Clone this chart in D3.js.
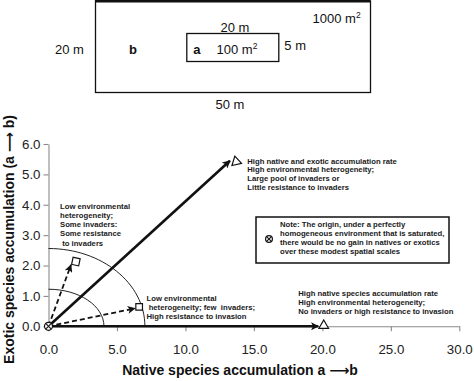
<!DOCTYPE html>
<html>
<head>
<meta charset="utf-8">
<script src="https://cdn.jsdelivr.net/npm/d3@7"></script>
<style>
  html, body { margin: 0; padding: 0; background: #fff; }
  svg { display: block; font-family: "Liberation Sans", Arial, Helvetica, sans-serif; }
</style>
</head>
<body>
<svg id="chart" width="474" height="381"></svg>
<script>
// ---------- data ----------
const xTickValues = [0, 5, 10, 15, 20, 25, 30];
const yTickValues = [0, 1, 2, 3, 4, 5, 6];
const xTickLabels = ["0.0", "5.0", "10.0", "15.0", "20.0", "25.0", "30.0"];
const yTickLabels = ["0.0", "1.0", "2.0", "3.0", "4.0", "5.0", "6.0"];

// vectors from the origin (native accumulation, exotic accumulation)
const vectorNames = ["highBoth", "highNative", "lowSome", "lowFew"];
const vectorNative = [13.25, 19.7, 1.64, 6.31];
const vectorExotic = [5.45, 0.0, 2.02, 0.59];
// end markers
const markerNative = [13.7, 20.1, 2.0, 6.62];
const markerExotic = [5.42, 0.0, 2.13, 0.64];
const markerShapes = ["triangle", "triangle", "square", "square"];
// reference arcs (radii in data units)
const arcNative = [4.05, 7.04];
const arcExotic = [1.22, 2.56];

const annotHighBoth = ["High native and exotic accumulation rate", "High environmental heterogeneity;", "Large pool of invaders or", "Little resistance to invaders"];
const annotHighNative = ["High native species accumulation rate", "High environmental heterogeneity;", "No invaders or high resistance to invasion"];
const annotLowSome = ["Low environmental", "heterogeneity;", "Some invaders:", "Some resistance", " to invaders"];
const annotLowFew = ["Low environmental", " heterogeneity; few  invaders;", "High resistance to invasion"];
const noteLines = ["Note: The origin, under a perfectly", "homogeneous environment that is saturated,", "there would be no gain in natives or exotics", "over these modest spatial scales"];

// ---------- styles ----------
const vectorStyle = {
  highBoth: { w: 2.6, dash: null },
  highNative: { w: 2.6, dash: null },
  lowSome: { w: 1.8, dash: "5,3" },
  lowFew: { w: 1.8, dash: "5,3" }
};
const markerRotate = [-13, 0, 12, 0];
const markerSize = [42, 40, 52, 44];

const svg = d3.select("#chart");

// ---------- top diagram ----------
const topG = svg.append("g");
topG.append("line").attr("x1", 95).attr("x2", 370.5).attr("y1", 1).attr("y2", 1)
  .attr("stroke", "#111").attr("stroke-width", 3);
topG.append("rect").attr("x", 95.5).attr("y", 1).attr("width", 275).attr("height", 91.5)
  .attr("fill", "none").attr("stroke", "#111").attr("stroke-width", 1.3);
topG.append("rect").attr("x", 186.8).attr("y", 33.5).attr("width", 92).attr("height", 28)
  .attr("fill", "none").attr("stroke", "#111").attr("stroke-width", 1.3);

function topText(x0, y0, str, opts = {}) {
  const t = topG.append("text").attr("x", x0).attr("y", y0).attr("font-size", 13).attr("fill", "#111")
    .attr("text-anchor", opts.anchor || "start").attr("font-weight", opts.bold ? "bold" : "normal");
  t.append("tspan").text(str);
  if (opts.sup) {
    t.append("tspan").attr("font-size", 8.5).attr("dy", -5).text(opts.sup);
  }
  return t;
}
topText(312.5, 22.7, "1000 m", { sup: "2" });
topText(235, 31.7, "20 m", { anchor: "middle" });
topText(55, 54.3, "20 m");
topText(129, 54.3, "b", { bold: true });
topText(193.3, 54.3, "a", { bold: true });
topText(216.5, 54.3, "100 m", { sup: "2" });
topText(284.3, 50, "5 m");
topText(230, 109.3, "50 m", { anchor: "middle" });

// ---------- scales ----------
const x = d3.scaleLinear().domain([0, 30]).range([48.5, 459.3]);
const y = d3.scaleLinear().domain([0, 6]).range([326.3, 144]);

const plot = svg.append("g");

// axes
const xAxis = d3.axisBottom(x).tickValues(xTickValues).tickSize(5).tickSizeOuter(0)
  .tickFormat((d, i) => xTickLabels[i]);
const yAxis = d3.axisLeft(y).tickValues(yTickValues).tickSize(5).tickSizeOuter(0)
  .tickFormat((d, i) => yTickLabels[i]);

const gx = plot.append("g").attr("transform", `translate(0,${y(0)})`).call(xAxis);
const gy = plot.append("g").attr("transform", `translate(${x(0)},0)`).call(yAxis);
[gx, gy].forEach(g => {
  g.select(".domain").attr("stroke", "#8a8a8a").attr("stroke-width", 1.1);
  g.selectAll(".tick line").attr("stroke", "#8a8a8a").attr("stroke-width", 1.1);
  g.selectAll(".tick text").attr("font-size", 13.3).attr("fill", "#222")
    .attr("font-family", '"Liberation Sans", Arial, sans-serif');
});
gx.selectAll(".tick text").attr("dy", "1.45em");
gy.selectAll(".tick text").attr("x", -8);

// axis titles
const xt = plot.append("text").attr("x", 240).attr("y", 375).attr("text-anchor", "middle")
  .attr("font-size", 14).attr("font-weight", "bold").attr("fill", "#111");
xt.append("tspan").text("Native species accumulation a ");
xt.append("tspan").attr("font-family", '"DejaVu Sans", sans-serif').text("\u27F6");
xt.append("tspan").text("b");

const yt = plot.append("text").attr("transform", "translate(13.5,239.5) rotate(-90)").attr("text-anchor", "middle")
  .attr("font-size", 14).attr("font-weight", "bold").attr("fill", "#111");
yt.append("tspan").text("Exotic species accumulation (a ");
yt.append("tspan").attr("font-family", '"DejaVu Sans", sans-serif').text("\u27F6");
yt.append("tspan").text(" b)");

// arcs (quarter ellipses in data space)
arcNative.forEach((rn, i) => {
  const re = arcExotic[i];
  const rx = x(rn) - x(0), ry = y(0) - y(re);
  const p = d3.path();
  p.moveTo(x(0), y(re));
  p.bezierCurveTo(x(0) + rx * 0.5523, y(re), x(rn), y(0) - ry * 0.5523, x(rn), y(0));
  plot.append("path").attr("d", p.toString()).attr("fill", "none")
    .attr("stroke", "#222").attr("stroke-width", 1);
});

// arrowhead marker
const defs = svg.append("defs");
defs.append("marker").attr("id", "head").attr("viewBox", "0 0 10 10")
  .attr("refX", 9).attr("refY", 5).attr("markerUnits", "userSpaceOnUse")
  .attr("markerWidth", 9).attr("markerHeight", 8).attr("orient", "auto")
  .append("path").attr("d", "M0,0 L10,5 L0,10 L2.5,5 Z").attr("fill", "#111");

// vectors
vectorNames.forEach((name, i) => {
  const st = vectorStyle[name];
  plot.append("line")
    .attr("x1", x(0)).attr("y1", y(0))
    .attr("x2", x(vectorNative[i])).attr("y2", y(vectorExotic[i]))
    .attr("stroke", "#111").attr("stroke-width", st.w)
    .attr("stroke-dasharray", st.dash)
    .attr("marker-end", "url(#head)");
});

// end markers
markerShapes.forEach((shape, i) => {
  const sym = shape === "triangle" ? d3.symbolTriangle : d3.symbolSquare;
  plot.append("path")
    .attr("d", d3.symbol().type(sym).size(markerSize[i])())
    .attr("transform", `translate(${x(markerNative[i])},${y(markerExotic[i]) - (shape === "triangle" && i === 1 ? 0.8 : 0)}) rotate(${markerRotate[i]})`)
    .attr("fill", "#fff").attr("stroke", "#111").attr("stroke-width", 1.2);
});

// origin marker (circle with cross)
function crossCircle(g, cx, cy, r) {
  g.append("circle").attr("cx", cx).attr("cy", cy).attr("r", r)
    .attr("fill", "#fff").attr("stroke", "#111").attr("stroke-width", 1.2);
  const d = r * 0.7071;
  g.append("path").attr("d", `M${cx - d},${cy - d}L${cx + d},${cy + d}M${cx - d},${cy + d}L${cx + d},${cy - d}`)
    .attr("stroke", "#111").attr("stroke-width", 1.1);
}
crossCircle(plot, x(0), y(0), 4);

// annotations
function annot(lines, x0, y0, dy) {
  const t = plot.append("text").attr("font-size", 7.7).attr("font-weight", "bold").attr("fill", "#1a1a1a")
    .style("white-space", "pre");
  lines.forEach((s, i) => {
    t.append("tspan").attr("x", x0).attr("y", y0 + i * dy).text(s);
  });
}
annot(annotLowSome, 60, 208.8, 9.2);
annot(annotLowFew, 146.5, 300.5, 9);
annot(annotHighBoth, 247.3, 163.5, 8.8);
annot(annotHighNative, 298.3, 296, 9);

// note box
plot.append("rect").attr("x", 256).attr("y", 217).attr("width", 193).attr("height", 46)
  .attr("fill", "#fff").attr("stroke", "#111").attr("stroke-width", 1.5);
crossCircle(plot, 269, 239, 3.4);
annot(noteLines, 280, 227, 8.9);
</script>
</body>
</html>
